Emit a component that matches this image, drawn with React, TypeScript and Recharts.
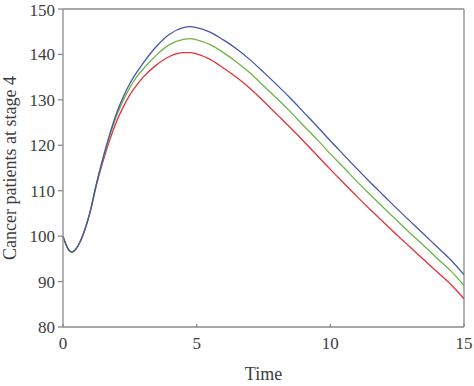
import { LineChart, Line, XAxis, YAxis, ReferenceLine } from 'recharts'

// time points (x) and the three stage-4 curves
const times = [
  0, 0.1, 0.2, 0.33, 0.5, 0.75, 1, 1.25, 1.5, 1.75, 2, 2.25, 2.5, 2.75, 3, 3.5, 4, 4.5, 4.75, 5,
  5.5, 6, 6.5, 7, 7.5, 8, 8.5, 9, 9.5, 10, 10.5, 11, 11.5, 12, 12.5, 13, 13.5, 14, 14.5, 15,
]
const blueValues = [
  100, 98.3, 97.1, 96.5, 97.3, 100.3, 105, 111.5, 117.3, 122.5, 127, 130.6, 133.6, 136, 138.1,
  141.8, 144.5, 145.9, 146.1, 145.9, 144.9, 143.2, 141.2, 138.8, 136.1, 133.3, 130.4, 127.3,
  124.2, 121, 117.9, 114.8, 111.8, 108.9, 106, 103.2, 100.4, 97.6, 94.8, 91.5,
]
const greenValues = [
  100, 98.3, 97.1, 96.5, 97.3, 100.3, 105, 111.5, 117.1, 122.1, 126.4, 129.8, 132.7, 135,
  136.8, 139.9, 142.2, 143.3, 143.5, 143.2, 142.15, 140.4, 138.3, 135.9, 133.1, 130.3, 127.4,
  124.3, 121.3, 118.1, 115.1, 112, 109.1, 106.2, 103.4, 100.6, 97.9, 95.1, 92.4, 89.1,
]
const redValues = [
  100, 98.3, 97.1, 96.5, 97.3, 100.3, 105, 111.2, 116.5, 121.2, 125.2, 128.4, 131.1, 133.2,
  135, 137.7, 139.6, 140.4, 140.4, 140.1, 138.9, 137, 134.9, 132.5, 129.7, 126.8, 123.9, 120.9,
  117.8, 114.7, 111.7, 108.7, 105.8, 103, 100.2, 97.5, 94.8, 92.1, 89.4, 86.2,
]
const xTicks = [0, 5, 10, 15]
const yTicks = [80, 90, 100, 110, 120, 130, 140, 150]

const FONT = '"Liberation Serif", "DejaVu Serif", serif'
const AXIS = '#8a8a8a'
const TEXT = '#3d3d3d'

const data = times.map((t, i) => ({
  t,
  blue: blueValues[i],
  green: greenValues[i],
  red: redValues[i],
}))

// bottom ticks point into the plot, so draw them by hand
function XTick(props: any) {
  const { x, y, payload } = props
  return (
    <g>
      <line x1={x} x2={x} y1={y - 10} y2={y - 13} stroke={AXIS} strokeWidth={1.3} />
      <text x={x} y={y} dy="0.71em" textAnchor="middle" fill={TEXT} fontSize={17} fontFamily={FONT}>
        {payload.value}
      </text>
    </g>
  )
}

export default function App() {
  return (
    <div style={{ position: 'absolute', left: 0, top: 0, background: '#fff' }}>
      <LineChart width={474} height={386} data={data} margin={{ top: 9, right: 10, left: 0, bottom: 0 }}>
        <XAxis
          dataKey="t"
          type="number"
          domain={[0, 15]}
          ticks={xTicks}
          height={59}
          tickLine={false}
          tickSize={0}
          tickMargin={10}
          tick={<XTick />}
          axisLine={{ stroke: AXIS, strokeWidth: 1.3 }}
          label={{
            value: 'Time',
            position: 'insideBottom',
            offset: 6,
            fill: TEXT,
            fontSize: 18,
            fontFamily: FONT,
          }}
        />
        <YAxis
          type="number"
          domain={[80, 150]}
          ticks={yTicks}
          width={63}
          tickSize={5}
          tickMargin={3}
          tick={{ fill: TEXT, fontSize: 17, fontFamily: FONT }}
          tickLine={{ stroke: AXIS, strokeWidth: 1.3 }}
          axisLine={{ stroke: AXIS, strokeWidth: 1.3 }}
          label={{
            value: 'Cancer patients at stage 4',
            angle: -90,
            position: 'insideLeft',
            offset: 10,
            fill: TEXT,
            fontSize: 18,
            fontFamily: FONT,
            style: { textAnchor: 'middle' },
          }}
        />
        <ReferenceLine y={150} stroke={AXIS} strokeWidth={1.3} />
        <ReferenceLine x={15} stroke={AXIS} strokeWidth={1.3} />
        <Line type="monotone" dataKey="red" stroke="#e5303b" strokeWidth={1.3} dot={false} isAnimationActive={false} />
        <Line type="monotone" dataKey="green" stroke="#6fb446" strokeWidth={1.3} dot={false} isAnimationActive={false} />
        <Line type="monotone" dataKey="blue" stroke="#4456a8" strokeWidth={1.3} dot={false} isAnimationActive={false} />
      </LineChart>
    </div>
  )
}
